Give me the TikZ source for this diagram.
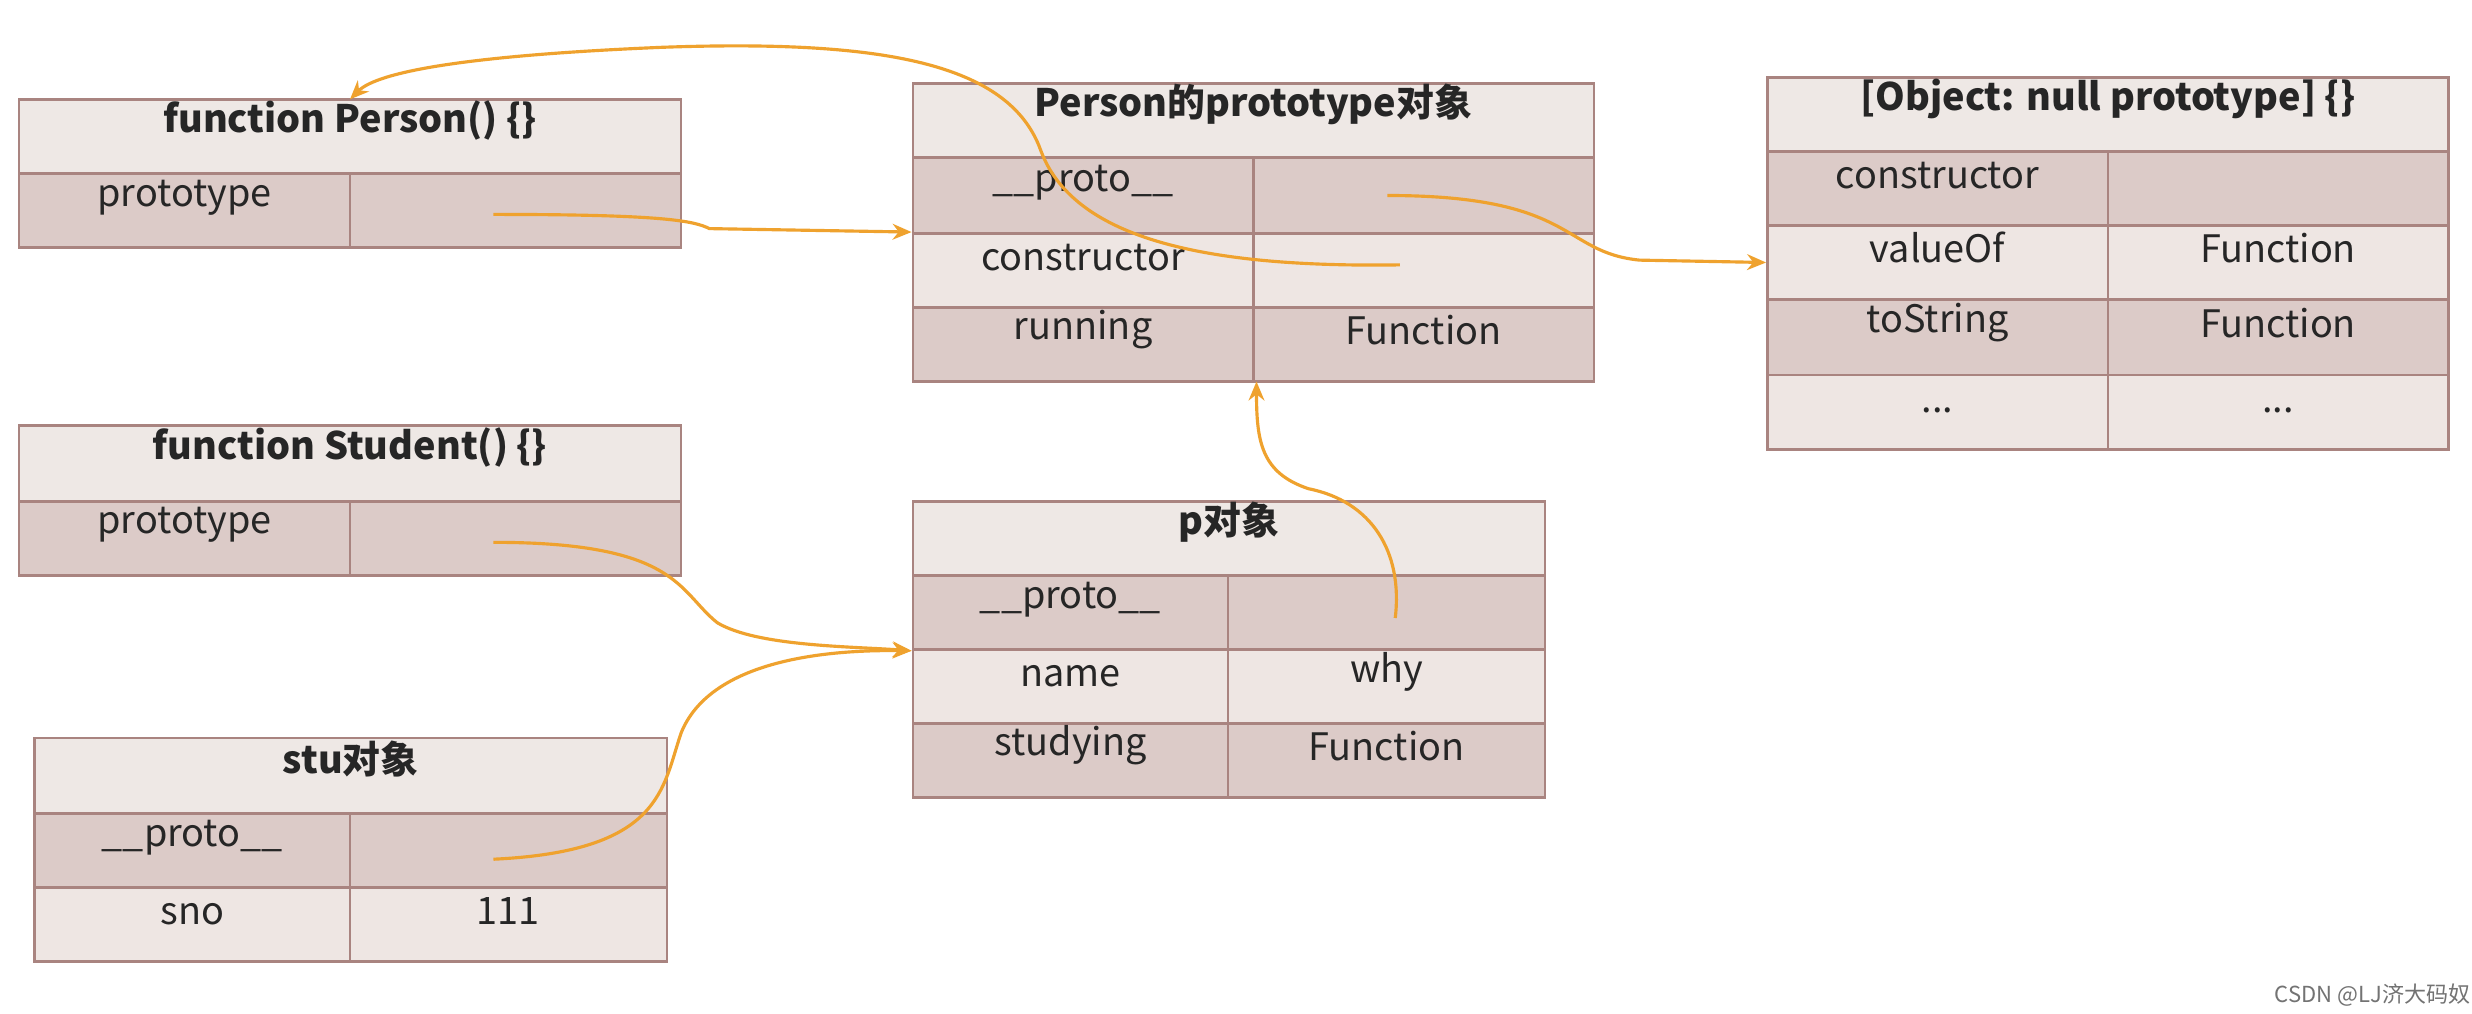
\documentclass[tikz,border=0pt]{standalone}
\usepackage{fontspec}
\setmainfont{Noto Sans CJK SC}
\usetikzlibrary{fit,arrows.meta}
\definecolor{hd}{HTML}{EEE8E5}
\definecolor{dk}{HTML}{DCCBC8}
\definecolor{lt}{HTML}{EEE6E3}
\definecolor{bd}{HTML}{A98480}
\definecolor{ar}{HTML}{EFA22E}
\tikzset{x=0.5pt,y=-0.5pt,
 cellbox/.style={draw=bd,line width=0.8pt,inner sep=0pt,font=\fontsize{12}{14}\selectfont,text=black!85},
 headbox/.style={cellbox,fill=hd,font=\fontsize{12}{14}\selectfont\bfseries},
 conn/.style={draw=ar,line width=1pt,-{Stealth[length=6pt,width=5pt]}}}
\newcommand\cellb[7]{\node[cellbox,fill=#6,fit={(#2,#3)(#4,#5)}] (#1) {#7};}
\newcommand\headb[6]{\node[headbox,fit={(#2,#3)(#4,#5)}] (#1) {#6};}
\begin{document}
\begin{tikzpicture}
\useasboundingbox[fill=white] (0,0) rectangle (1568,643);
% Person function
\headb{fp}{12}{63}{432}{110}{function Person() \{\}}
\cellb{fpa}{12}{110}{222}{157}{dk}{prototype}
\cellb{fpb}{222}{110}{432}{157}{dk}{}
% Student function
\headb{fs}{12}{270}{432}{318}{function Student() \{\}}
\cellb{fsa}{12}{318}{222}{365}{dk}{prototype}
\cellb{fsb}{222}{318}{432}{365}{dk}{}
% stu
\headb{st}{22}{468}{423}{516}{stu对象}
\cellb{sta}{22}{516}{222}{563}{dk}{\_\_proto\_\_}
\cellb{stb}{222}{516}{423}{563}{dk}{}
\cellb{stc}{22}{563}{222}{610}{lt}{sno}
\cellb{std}{222}{563}{423}{610}{lt}{111}
% Person prototype
\headb{pp}{579}{53}{1011}{100}{Person的prototype对象}
\cellb{ppa}{579}{100}{795}{148}{dk}{\_\_proto\_\_}
\cellb{ppb}{795}{100}{1011}{148}{dk}{}
\cellb{ppc}{579}{148}{795}{195}{lt}{constructor}
\cellb{ppd}{795}{148}{1011}{195}{lt}{}
\cellb{ppe}{579}{195}{795}{242}{dk}{running}
\cellb{ppf}{795}{195}{1011}{242}{dk}{Function}
% p
\headb{po}{579}{318}{980}{365}{p对象}
\cellb{poa}{579}{365}{779}{412}{dk}{\_\_proto\_\_}
\cellb{pob}{779}{365}{980}{412}{dk}{}
\cellb{poc}{579}{412}{779}{459}{lt}{name}
\cellb{pod}{779}{412}{980}{459}{lt}{why}
\cellb{poe}{579}{459}{779}{506}{dk}{studying}
\cellb{pof}{779}{459}{980}{506}{dk}{Function}
% Object null
\headb{ob}{1121}{49}{1553}{96}{[Object: null prototype] \{\}}
\cellb{oba}{1121}{96}{1337}{143}{dk}{constructor}
\cellb{obb}{1337}{96}{1553}{143}{dk}{}
\cellb{obc}{1121}{143}{1337}{190}{lt}{valueOf}
\cellb{obd}{1337}{143}{1553}{190}{lt}{Function}
\cellb{obe}{1121}{190}{1337}{238}{dk}{toString}
\cellb{obf}{1337}{190}{1553}{238}{dk}{Function}
\cellb{obg}{1121}{238}{1337}{285}{lt}{...}
\cellb{obh}{1337}{238}{1553}{285}{lt}{...}
% connector start points
\coordinate (s1) at (313,136);
\coordinate (s2) at (880,124);
\coordinate (s3) at (888,168);
\coordinate (s4) at (313,344);
\coordinate (s5) at (885,392);
\coordinate (s6) at (313,545);
\coordinate (e1) at (ppc.north west);
\coordinate (e2) at (obc.west);
\coordinate (e3) at (222,63);
\coordinate (e4) at (poa.south west);
\coordinate (e5) at (797,242);
\path[conn] (s1) .. controls (420,136) and (440,140) .. (450,145) -- (e1);
\path[conn] (s2) .. controls (1000,124) and (990,160) .. (1040,165) -- (e2);
\path[conn] (s3) .. controls (760,170) and (680,150) .. (660,95) .. controls (640,40) and (560,25) .. (420,30) .. controls (300,35) and (240,45) .. (e3);
\path[conn] (s4) .. controls (430,344) and (430,375) .. (455,395) .. controls (480,410) and (540,410) .. (e4);
\path[conn] (s5) .. controls (890,350) and (870,318) .. (830,310) .. controls (800,300) and (797,280) .. (e5);
\path[conn] (s6) .. controls (420,540) and (420,500) .. (432,465) .. controls (450,420) and (520,412) .. (e4);
\node[font=\fontsize{7}{8}\selectfont,text=black!55] (wm) at (1505,631) {CSDN @LJ济大码奴};
\end{tikzpicture}
\end{document}
